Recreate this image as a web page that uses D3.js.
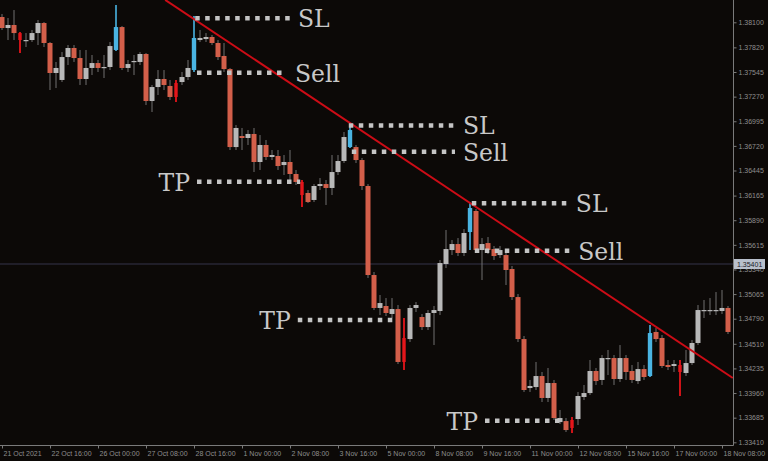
<!DOCTYPE html>
<html><head><meta charset="utf-8">
<script src="https://cdn.jsdelivr.net/npm/d3@7"></script>
<style>
html,body{margin:0;padding:0;background:#0c0907;}
svg{display:block;}
</style></head><body>
<svg id="chart" width="768" height="461"></svg>
<script>
// ---- data: GBPUSD H4 candles, 21 Oct 08:00 .. 18 Nov 12:00 ----
const opens = [
1.38159,1.38036,1.38070,1.37980,1.37891,1.37902,1.37980,1.38092,1.37869,1.37534,
1.37456,1.37712,1.37813,1.37701,1.37467,1.37590,1.37645,1.37590,1.37601,1.37791,
1.38047,1.37590,1.37657,1.37657,1.37746,1.37221,1.37377,1.37467,1.37389,1.37422,
1.37433,1.37489,1.37567,1.37902,1.37913,1.37936,1.37869,1.37724,1.37578,1.36707,
1.36830,1.36808,1.36853,1.36540,1.36730,1.36596,1.36607,1.36506,1.36540,1.36406,
1.36317,1.36194,1.36116,1.36272,1.36294,1.36250,1.36428,1.36551,1.36707,1.36707,
1.36562,1.36272,1.35278,1.34910,1.34932,1.34843,1.34898,1.34575,1.34563,1.34910,
1.34809,1.34697,1.34854,1.34876,1.35401,1.35557,1.35624,1.35524,1.35758,1.35993,
1.35557,1.35635,1.35568,1.35501,1.35501,1.35345,1.35032,1.34563,1.34016,1.34027,
1.34150,1.33905,1.34072,1.33636,1.33647,1.33659,1.33670,1.33916,1.33960,1.34206,
1.34106,1.34340,1.34351,1.34117,1.34351,1.34206,1.34094,1.34228,1.34150,1.34642,
1.34575,1.34273,1.34262,1.34273,1.34184,1.34295,1.34519,1.34876,1.34876,1.34876,
1.34876,1.34910];
const highs = [
1.38193,1.38148,1.38237,1.37992,1.37980,1.38014,1.38126,1.38103,1.37880,1.37657,
1.37768,1.37846,1.37846,1.37791,1.37791,1.37735,1.37679,1.37735,1.37880,1.38293,
1.38059,1.37679,1.37735,1.37768,1.37757,1.37400,1.37567,1.37567,1.37456,1.37456,
1.37545,1.37679,1.38170,1.38014,1.37980,1.37958,1.37902,1.37869,1.37590,1.36953,
1.36920,1.36897,1.36920,1.36841,1.36786,1.36674,1.36674,1.36618,1.36674,1.36451,
1.36339,1.36227,1.36294,1.36361,1.36339,1.36618,1.36618,1.36875,1.36975,1.36730,
1.36585,1.36294,1.35312,1.35055,1.35021,1.35021,1.34943,1.34798,1.34943,1.34977,
1.34843,1.34887,1.34932,1.35446,1.35781,1.35669,1.35691,1.35792,1.36082,1.36015,
1.35691,1.35702,1.35602,1.35602,1.35535,1.35379,1.35066,1.34597,1.34106,1.34307,
1.34195,1.34240,1.34106,1.33771,1.33681,1.33692,1.33972,1.34050,1.34329,1.34240,
1.34385,1.34441,1.34385,1.34496,1.34385,1.34273,1.34307,1.34273,1.34720,1.34686,
1.34608,1.34329,1.34329,1.34329,1.34441,1.34552,1.34943,1.34999,1.35021,1.35088,
1.35111,1.34932];
const lows = [
1.38014,1.37902,1.37902,1.37757,1.37824,1.37880,1.37846,1.37824,1.37344,1.37366,
1.37433,1.37623,1.37657,1.37400,1.37400,1.37511,1.37545,1.37478,1.37567,1.37779,
1.37567,1.37545,1.37511,1.37623,1.37176,1.37098,1.37288,1.37344,1.37232,1.37210,
1.37400,1.37456,1.37545,1.37880,1.37880,1.37846,1.37679,1.37545,1.36674,1.36674,
1.36674,1.36730,1.36428,1.36451,1.36562,1.36562,1.36451,1.36395,1.36339,1.36283,
1.36037,1.36082,1.36093,1.36227,1.36060,1.36171,1.36395,1.36529,1.36696,1.36529,
1.36227,1.35245,1.34887,1.34831,1.34820,1.34798,1.34284,1.34217,1.34530,1.34865,
1.34664,1.34664,1.34496,1.34831,1.35356,1.35501,1.35490,1.35490,1.35557,1.35524,
1.35222,1.35513,1.35446,1.35468,1.35166,1.34999,1.34530,1.33972,1.33972,1.33994,
1.33860,1.33860,1.33659,1.33614,1.33525,1.33514,1.33603,1.33882,1.33938,1.34050,
1.34050,1.34161,1.34050,1.34083,1.34106,1.34072,1.34061,1.34106,1.34139,1.34530,
1.34240,1.34217,1.34195,1.33927,1.34150,1.34273,1.34496,1.34798,1.34831,1.34831,
1.34843,1.34619];
const closes = [
1.38036,1.38070,1.37980,1.37902,1.37902,1.37980,1.38092,1.37869,1.37534,1.37590,
1.37712,1.37813,1.37701,1.37467,1.37590,1.37645,1.37590,1.37601,1.37835,1.38047,
1.37590,1.37634,1.37668,1.37746,1.37221,1.37377,1.37467,1.37400,1.37266,1.37266,
1.37489,1.37590,1.37925,1.37925,1.37936,1.37869,1.37712,1.37578,1.36707,1.36920,
1.36808,1.36853,1.36540,1.36730,1.36596,1.36618,1.36495,1.36540,1.36406,1.36317,
1.36171,1.36093,1.36272,1.36294,1.36250,1.36428,1.36551,1.36819,1.36897,1.36562,
1.36272,1.35278,1.34910,1.34965,1.34854,1.34898,1.34307,1.34307,1.34910,1.34943,
1.34697,1.34854,1.34887,1.35412,1.35568,1.35624,1.35524,1.35747,1.36026,1.35557,
1.35624,1.35557,1.35490,1.35557,1.35334,1.35032,1.34563,1.33994,1.34039,1.34150,
1.33905,1.34072,1.33681,1.33681,1.33547,1.33570,1.33927,1.33960,1.34206,1.34094,
1.34351,1.34351,1.34117,1.34351,1.34195,1.34106,1.34228,1.34139,1.34630,1.34563,
1.34262,1.34251,1.34284,1.34195,1.34295,1.34519,1.34887,1.34887,1.34887,1.34887,
1.34910,1.34642];
const signalBars = [19, 32, 58, 78, 108];     // highlighted (cyan) candles
const spikeBars = [3, 29, 50, 67, 95, 113];    // bright red candles
const xTickBars = [0, 8, 16, 24, 32, 40, 48, 56, 64, 72, 80, 88, 96, 104, 112, 120];
const xTickLabels = ["21 Oct 2021","22 Oct 16:00","26 Oct 00:00","27 Oct 08:00","28 Oct 16:00",
  "1 Nov 00:00","2 Nov 08:00","3 Nov 16:00","5 Nov 00:00","8 Nov 08:00","9 Nov 16:00",
  "11 Nov 00:00","12 Nov 08:00","15 Nov 16:00","17 Nov 00:00","18 Nov 08:00"];
const yTickValues = [1.38100,1.37820,1.37545,1.37270,1.36995,1.36720,1.36445,1.36165,
  1.35890,1.35615,1.35340,1.35065,1.34790,1.34510,1.34235,1.33960,1.33685,1.33410];
const currentPrice = 1.35401;
const levelLabels = ["SL","Sell","TP","SL","Sell","TP","SL","Sell","TP"];
const levelPrices = [1.38145,1.37537,1.36320,1.36948,1.36655,1.34776,1.36079,1.35549,1.33651];
const levelFromBars = [32.2,32.5,32.5,57.8,58.3,49.3,78.3,78.8,80.5];
const levelToBars = [48.0,47.5,49.7,75.5,75.5,65.5,94.3,94.7,93.8];
const levelTextSide = ["right","right","left","right","right","left","right","right","left"];
const trendBars = [27.2, 121.8];
const trendPrices = [1.38350, 1.34128];

// ---- drawing ----
const W = 768, H = 461, plotR = 733, plotB = 445;
const svg = d3.select("#chart");
svg.append("rect").attr("width", W).attr("height", H).attr("fill", "#0c0907");

const x = d3.scaleLinear().domain([0, 121]).range([2, 728]);
const y = d3.scaleLinear().domain([1.33410, 1.38100]).range([442.3, 22.3]);

svg.append("defs").append("clipPath").attr("id", "plot")
  .append("rect").attr("x", 0).attr("y", 0).attr("width", plotR).attr("height", plotB);
const g = svg.append("g").attr("clip-path", "url(#plot)");

// current price line
g.append("line").attr("x1", 0).attr("x2", plotR)
  .attr("y1", y(currentPrice)).attr("y2", y(currentPrice))
  .attr("stroke", "#34344a").attr("stroke-width", 1);

const bars = d3.range(opens.length).map(i => ({
  i, o: opens[i], h: highs[i], l: lows[i], c: closes[i],
  kind: signalBars.includes(i) ? "signal" : spikeBars.includes(i) ? "spike" : (closes[i] >= opens[i] ? "up" : "down")
}));
const bodyColor = {up: "#b8b8b8", down: "#d35f4a", signal: "#4ab4e2", spike: "#e5161b"};
const wickColor = {up: "#707070", down: "#707070", signal: "#4ab4e2", spike: "#e5161b"};
const wickW = {up: 1, down: 1, signal: 1.6, spike: 1.8};
const bodyW = {up: 5, down: 5, signal: 4.4, spike: 3.4};

const cg = g.append("g");
cg.selectAll("line.wick").data(bars).join("line").attr("class", "wick")
  .attr("x1", d => x(d.i)).attr("x2", d => x(d.i))
  .attr("y1", d => y(d.h)).attr("y2", d => y(d.l))
  .attr("stroke", d => wickColor[d.kind]).attr("stroke-width", d => wickW[d.kind]);
cg.selectAll("rect.body").data(bars).join("rect").attr("class", "body")
  .attr("x", d => x(d.i) - bodyW[d.kind] / 2).attr("width", d => bodyW[d.kind])
  .attr("y", d => y(Math.max(d.o, d.c)))
  .attr("height", d => Math.max(1.2, Math.abs(y(d.o) - y(d.c))))
  .attr("fill", d => bodyColor[d.kind]);

// dotted SL / Sell / TP levels
const lv = levelLabels.map((t, k) => ({t, p: levelPrices[k], a: levelFromBars[k], b: levelToBars[k], side: levelTextSide[k]}));
const ag = svg.append("g");
ag.selectAll("line").data(lv).join("line")
  .attr("x1", d => x(d.a)).attr("x2", d => x(d.b))
  .attr("y1", d => y(d.p)).attr("y2", d => y(d.p))
  .attr("stroke", "#c4c4c4").attr("stroke-width", 4.5).attr("stroke-dasharray", "4.5 5.5");
ag.selectAll("text").data(lv).join("text")
  .attr("x", d => d.side === "right" ? x(d.b) + 8 : x(d.a) - 7)
  .attr("y", d => y(d.p) + 9)
  .attr("text-anchor", d => d.side === "right" ? "start" : "end")
  .attr("font-family", "'DejaVu Serif', serif").attr("font-size", 23.5)
  .attr("fill", "#c8c8c8").text(d => d.t);

// trend line
g.append("line")
  .attr("x1", x(trendBars[0])).attr("y1", y(trendPrices[0]))
  .attr("x2", x(trendBars[1])).attr("y2", y(trendPrices[1]))
  .attr("stroke", "#cc0c16").attr("stroke-width", 2);

// axes
const axisColor = "#7a7a7a", labelColor = "#8e8e8e";
svg.append("line").attr("x1", plotR + 0.5).attr("x2", plotR + 0.5).attr("y1", 0).attr("y2", plotB + 0.5)
  .attr("stroke", axisColor);
svg.append("line").attr("x1", 0).attr("x2", plotR + 0.5).attr("y1", plotB + 0.5).attr("y2", plotB + 0.5)
  .attr("stroke", axisColor);

const yAxis = d3.axisRight(y).tickValues(yTickValues).tickFormat(d3.format(".5f")).tickSize(3).tickPadding(2);
const ya = svg.append("g").attr("transform", `translate(${plotR + 0.5},0)`).call(yAxis);
ya.select(".domain").remove();
ya.selectAll("line").attr("stroke", axisColor);
ya.selectAll("text").attr("fill", labelColor).attr("font-family", "'Liberation Sans', Arial, sans-serif").attr("font-size", 7);

const xAxis = d3.axisBottom(x).tickValues(xTickBars).tickFormat((d, k) => xTickLabels[k]).tickSize(3).tickPadding(3);
const xa = svg.append("g").attr("transform", `translate(0,${plotB + 0.5})`).call(xAxis);
xa.select(".domain").remove();
xa.selectAll("line").attr("stroke", axisColor);
xa.selectAll("text").attr("fill", labelColor).attr("text-anchor", "start").attr("x", 1)
  .attr("font-family", "'Liberation Sans', Arial, sans-serif").attr("font-size", 7);

// current price label
const py = y(currentPrice);
svg.append("rect").attr("x", plotR + 1).attr("y", py - 5).attr("width", 31).attr("height", 10)
  .attr("fill", "#b9c0cc");
svg.append("text").attr("x", plotR + 4).attr("y", py + 2.5)
  .attr("font-family", "'Liberation Sans', Arial, sans-serif").attr("font-size", 7)
  .attr("fill", "#1a1a26").text(d3.format(".5f")(currentPrice));
</script>
</body></html>
